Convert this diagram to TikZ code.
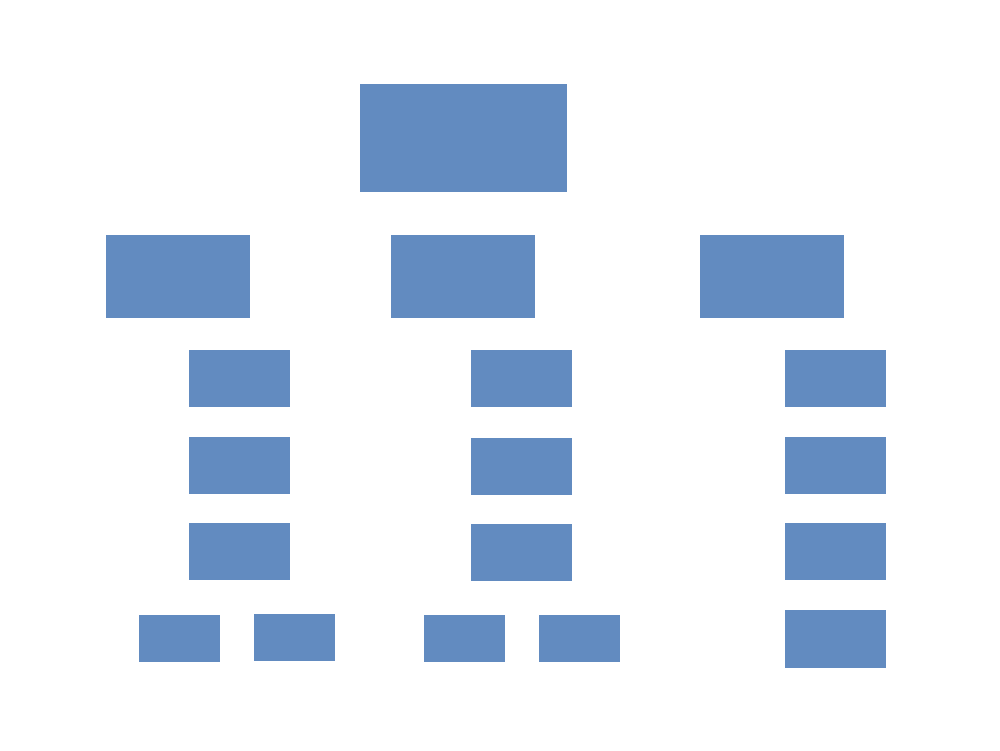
\documentclass[tikz,border=0pt]{standalone}
\usetikzlibrary{positioning}

\definecolor{boxblue}{RGB}{98,139,192}

\tikzset{
  box/.style={rectangle, fill=boxblue, inner sep=0pt, outer sep=0pt},
  bigbox/.style={box, minimum width=41.4mm, minimum height=21.6mm},
  midbox/.style={box, minimum width=28.8mm, minimum height=16.6mm},
  leafbox/.style={box, minimum width=20.2mm, minimum height=11.4mm},
  smallbox/.style={box, minimum width=16.2mm, minimum height=9.4mm}
}

\begin{document}
\begin{tikzpicture}
  \useasboundingbox (0,0) rectangle (20,-15);

  % top
  \node[bigbox] (top) at (9.27,-2.76) {};

  % second row
  \node[midbox] (left) at (3.56,-5.53) {};
  \node[midbox] (mid) at (9.25,-5.53) {};
  \node[midbox] (right) at (15.43,-5.53) {};

  % left column
  \node[leafbox] (l1) at (4.79,-7.57) {};
  \node[leafbox, below=0.6cm of l1] (l2) {};
  \node[leafbox, below=0.58cm of l2] (l3) {};
  \node[smallbox] (l4a) at (3.59,-12.77) {};
  \node[smallbox] (l4b) at (5.88,-12.75) {};

  % middle column
  \node[leafbox] (m1) at (10.43,-7.57) {};
  \node[leafbox, below=0.62cm of m1] (m2) {};
  \node[leafbox, below=0.58cm of m2] (m3) {};
  \node[smallbox] (m4a) at (9.29,-12.77) {};
  \node[smallbox] (m4b) at (11.58,-12.77) {};

  % right column
  \node[leafbox] (r1) at (16.71,-7.57) {};
  \node[leafbox, below=0.6cm of r1] (r2) {};
  \node[leafbox, below=0.58cm of r2] (r3) {};
  \node[leafbox, minimum height=11.6mm, below=0.6cm of r3] (r4) {};
\end{tikzpicture}
\end{document}
